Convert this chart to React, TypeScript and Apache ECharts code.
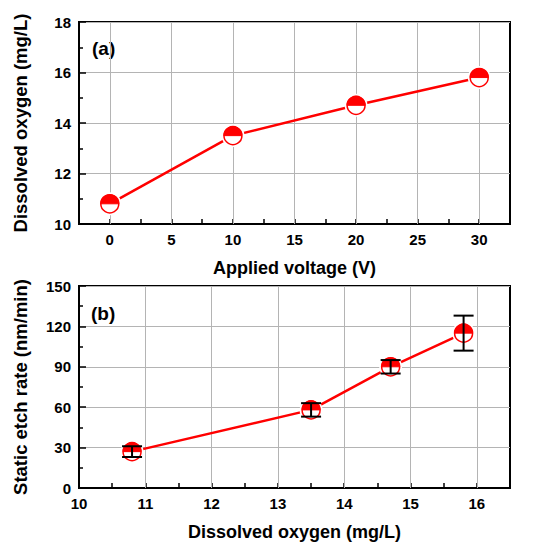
import React, { useEffect, useRef } from "react";
import * as echarts from "echarts";

const voltage = [0, 10, 20, 30];
const dissolvedOxygenA = [10.8, 13.5, 14.7, 15.8];
const dissolvedOxygenB = [10.8, 13.5, 14.7, 15.8];
const etchRate = [27, 58, 90, 115];
const etchErr = [4, 5, 5, 13];
const gridXTop = [0, 5, 10, 15, 20, 25, 30];
const gridXBottom = [11, 12, 13, 14, 15, 16];

const RED = "#ff0000";
const GRID_GRAY = "#b4b4b4";
const FONT = "Liberation Sans, Arial, sans-serif";

const markerRender = (params: any, api: any) => {
  const pt = api.coord([api.value(0), api.value(1)]);
  const r = 9;
  const cx = pt[0];
  const cy = pt[1];
  const half: number[][] = [];
  const N = 24;
  for (let k = 0; k <= N; k++) {
    const a = Math.PI + (k * Math.PI) / N;
    half.push([cx + r * Math.cos(a), cy + r * Math.sin(a)]);
  }
  return {
    type: "group",
    children: [
      { type: "circle", shape: { cx, cy, r: r + 2.5 }, style: { fill: "#fff" } },
      { type: "circle", shape: { cx, cy, r }, style: { fill: "#fff", stroke: RED, lineWidth: 1.5 } },
      { type: "polygon", shape: { points: half }, style: { fill: RED, stroke: RED, lineWidth: 1 } },
    ],
  };
};

const errRender = (params: any, api: any) => {
  const x = api.value(0);
  const y = api.value(1);
  const e = api.value(2);
  const hi = api.coord([x, y + e]);
  const lo = api.coord([x, y - e]);
  const w = 10;
  const st = { stroke: "#000", lineWidth: 2 };
  return {
    type: "group",
    children: [
      { type: "line", shape: { x1: hi[0], y1: hi[1], x2: lo[0], y2: lo[1] }, style: st },
      { type: "line", shape: { x1: hi[0] - w, y1: hi[1], x2: hi[0] + w, y2: hi[1] }, style: st },
      { type: "line", shape: { x1: lo[0] - w, y1: lo[1], x2: lo[0] + w, y2: lo[1] }, style: st },
    ],
  };
};

const labelStyle = { color: "#000", fontWeight: "bold" as const, fontSize: 15, fontFamily: FONT };
const nameStyle = { color: "#000", fontWeight: "bold" as const, fontSize: 18.5, fontFamily: FONT };

export default function App() {
  const ref = useRef<HTMLDivElement>(null);
  useEffect(() => {
    if (!ref.current) return;
    const chart = echarts.init(ref.current, undefined, { renderer: "svg" });
    const axisLine = { show: true, onZero: false, lineStyle: { color: "#000", width: 2 } };
    const gridMarkLine = (vals: number[]) => ({
      silent: true,
      symbol: "none",
      z: 1,
      animation: false,
      label: { show: false },
      emphasis: { disabled: true },
      lineStyle: { color: GRID_GRAY, width: 1, type: "solid" },
      data: vals.map((v) => ({ xAxis: v })),
    });
    const topPts = voltage.map((v, i) => [v, dissolvedOxygenA[i]]);
    const botPts = dissolvedOxygenB.map((v, i) => [v, etchRate[i]]);
    const option: any = {
      animation: false,
      backgroundColor: "#fff",
      grid: [
        { left: 79, top: 22, width: 431, height: 202, show: true, borderColor: "#000", borderWidth: 2, backgroundColor: "transparent" },
        { left: 79, top: 286, width: 431, height: 202, show: true, borderColor: "#000", borderWidth: 2, backgroundColor: "transparent" },
      ],
      xAxis: [
        {
          type: "value",
          gridIndex: 0,
          min: -2.5,
          max: 32.5,
          interval: 2.5,
          name: "Applied voltage (V)",
          nameLocation: "middle",
          nameGap: 35,
          nameTextStyle: { ...nameStyle, fontSize: 18 },
          axisLine,
          axisTick: { inside: true, length: 5, lineStyle: { color: "#000", width: 1.5 } },
          axisLabel: { ...labelStyle, margin: 8, formatter: (v: number) => (v % 5 === 0 ? String(v) : "") },
          splitLine: { show: false },
        },
        {
          type: "value",
          gridIndex: 1,
          min: 10,
          max: 16.5,
          interval: 0.5,
          name: "Dissolved oxygen (mg/L)",
          nameLocation: "middle",
          nameGap: 35,
          nameTextStyle: { ...nameStyle, fontSize: 18 },
          axisLine,
          axisTick: { inside: true, length: 5, lineStyle: { color: "#000", width: 1.5 } },
          axisLabel: { ...labelStyle, margin: 8, formatter: (v: number) => (Number.isInteger(v) ? String(v) : "") },
          splitLine: { show: false },
        },
      ],
      yAxis: [
        {
          type: "value",
          gridIndex: 0,
          min: 10,
          max: 18,
          interval: 2,
          name: "Dissolved oxygen (mg/L)",
          nameLocation: "middle",
          nameGap: 49,
          nameTextStyle: nameStyle,
          axisLine,
          axisTick: { inside: true, length: 7, lineStyle: { color: "#000", width: 1.5 } },
          minorTick: { show: true, splitNumber: 2, length: 4, lineStyle: { color: "#000", width: 1.5 } },
          axisLabel: { ...labelStyle, margin: 8 },
          splitLine: { show: true, lineStyle: { color: GRID_GRAY, width: 1 } },
        },
        {
          type: "value",
          gridIndex: 1,
          min: 0,
          max: 150,
          interval: 30,
          name: "Static etch rate (nm/min)",
          nameLocation: "middle",
          nameGap: 49,
          nameTextStyle: nameStyle,
          axisLine,
          axisTick: { inside: true, length: 7, lineStyle: { color: "#000", width: 1.5 } },
          minorTick: { show: true, splitNumber: 2, length: 4, lineStyle: { color: "#000", width: 1.5 } },
          axisLabel: { ...labelStyle, margin: 8 },
          splitLine: { show: true, lineStyle: { color: GRID_GRAY, width: 1 } },
        },
      ],
      graphic: [
        { type: "text", left: 92, top: 39, style: { text: "(a)", fill: "#000", font: `bold 19px ${FONT}` } },
        { type: "text", left: 91, top: 304, style: { text: "(b)", fill: "#000", font: `bold 19px ${FONT}` } },
      ],
      series: [
        {
          type: "line",
          xAxisIndex: 0,
          yAxisIndex: 0,
          data: topPts,
          z: 1,
          silent: true,
          showSymbol: false,
          lineStyle: { opacity: 0 },
          markLine: gridMarkLine(gridXTop),
        },
        {
          type: "line",
          xAxisIndex: 1,
          yAxisIndex: 1,
          data: botPts,
          z: 1,
          silent: true,
          showSymbol: false,
          lineStyle: { opacity: 0 },
          markLine: gridMarkLine(gridXBottom),
        },
        {
          type: "line",
          xAxisIndex: 0,
          yAxisIndex: 0,
          z: 2,
          showSymbol: false,
          lineStyle: { color: RED, width: 2.5 },
          data: topPts,
        },
        {
          type: "custom",
          xAxisIndex: 0,
          yAxisIndex: 0,
          z: 3,
          renderItem: markerRender,
          data: topPts,
        },
        {
          type: "line",
          xAxisIndex: 1,
          yAxisIndex: 1,
          z: 2,
          showSymbol: false,
          lineStyle: { color: RED, width: 2.5 },
          data: botPts,
        },
        {
          type: "custom",
          xAxisIndex: 1,
          yAxisIndex: 1,
          z: 3,
          renderItem: markerRender,
          data: botPts,
        },
        {
          type: "custom",
          xAxisIndex: 1,
          yAxisIndex: 1,
          z: 4,
          renderItem: errRender,
          data: dissolvedOxygenB.map((v, i) => [v, etchRate[i], etchErr[i]]),
        },
      ],
    };
    chart.setOption(option);
    return () => chart.dispose();
  }, []);
  return <div ref={ref} style={{ position: "absolute", left: 0, top: 0, width: 535, height: 550 }} />;
}
